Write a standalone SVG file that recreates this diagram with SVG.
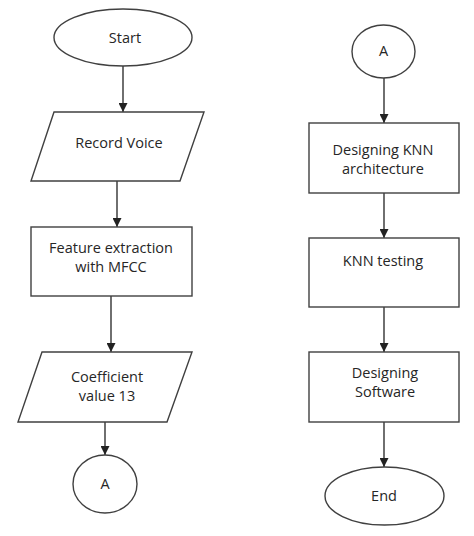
<svg xmlns="http://www.w3.org/2000/svg" width="474" height="536" viewBox="0 0 474 536">
<defs>
<style>
.s{fill:#fff;stroke:#404040;stroke-width:1.4}
.t{font-family:"Open Sans","Noto Sans",sans-serif;font-size:14.5px;fill:#262626;text-anchor:middle}
.c{stroke:#333;stroke-width:1.4;fill:none;marker-end:url(#ah)}
</style>
<marker id="ah" viewBox="0 0 10 10" refX="10" refY="5" markerWidth="9" markerHeight="9" markerUnits="userSpaceOnUse" orient="auto">
<path d="M0,0 L10,5 L0,10 z" fill="#222"/>
</marker>
</defs>
<rect width="474" height="536" fill="#fff"/>
<g id="connectors">
<line class="c" x1="123" y1="66" x2="123" y2="112"/>
<line class="c" x1="117" y1="181" x2="117" y2="227"/>
<line class="c" x1="111" y1="296" x2="111" y2="352"/>
<line class="c" x1="105" y1="422" x2="105" y2="455"/>
<line class="c" x1="384" y1="78" x2="384" y2="123"/>
<line class="c" x1="384" y1="193" x2="384" y2="238"/>
<line class="c" x1="384" y1="307" x2="384" y2="352"/>
<line class="c" x1="384" y1="422" x2="384" y2="467"/>
</g>
<g id="start">
<ellipse class="s" cx="123" cy="37.5" rx="69" ry="28.5"/>
<text class="t" x="125" y="43">Start</text>
</g>
<g id="record">
<polygon class="s" points="54,112 204,112 180,181 31,181"/>
<text class="t" x="119" y="148">Record Voice</text>
</g>
<g id="feature">
<rect class="s" x="31" y="227" width="161" height="69"/>
<text class="t" x="111" y="253">Feature extraction</text>
<text class="t" x="111" y="272">with MFCC</text>
</g>
<g id="coef">
<polygon class="s" points="42,352 192,352 167,422 18,422"/>
<text class="t" x="107" y="382">Coefficient</text>
<text class="t" x="107" y="401">value 13</text>
</g>
<g id="a1">
<ellipse class="s" cx="105" cy="484" rx="32" ry="29"/>
<text class="t" x="105" y="489">A</text>
</g>
<g id="a2">
<ellipse class="s" cx="383.5" cy="51.5" rx="31.5" ry="26.5"/>
<text class="t" x="383.5" y="56">A</text>
</g>
<g id="knnarch">
<rect class="s" x="309" y="123" width="150" height="70"/>
<text class="t" x="383" y="155">Designing KNN</text>
<text class="t" x="383" y="174">architecture</text>
</g>
<g id="knntest">
<rect class="s" x="309" y="238" width="150" height="69"/>
<text class="t" x="383" y="266">KNN testing</text>
</g>
<g id="software">
<rect class="s" x="309" y="352" width="150" height="70"/>
<text class="t" x="385" y="378">Designing</text>
<text class="t" x="385" y="397">Software</text>
</g>
<g id="end">
<ellipse class="s" cx="384.5" cy="496" rx="59.5" ry="29"/>
<text class="t" x="384" y="501">End</text>
</g>
</svg>
